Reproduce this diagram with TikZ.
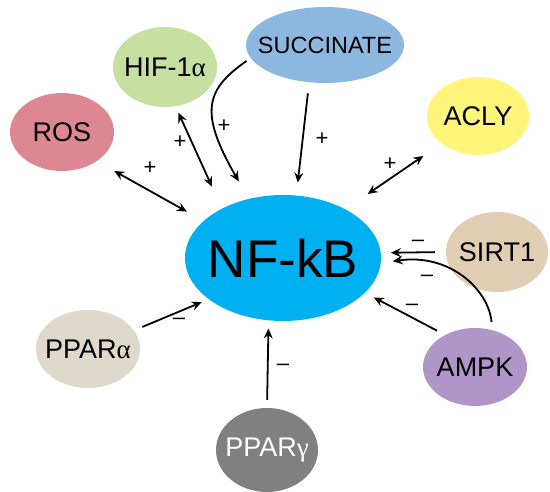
\documentclass[tikz,border=0pt]{standalone}
\usepackage{fontspec}
\setmainfont{Liberation Sans}
\newfontfamily\grk{Liberation Serif}
\usetikzlibrary{shapes.geometric,arrows.meta}
\newcommand\zw[1]{\makebox[0pt]{#1}}
\definecolor{cNF}{RGB}{0,176,240}
\definecolor{cROS}{RGB}{220,135,145}
\definecolor{cHIF}{RGB}{197,224,160}
\definecolor{cSUC}{RGB}{140,183,222}
\definecolor{cACL}{RGB}{255,245,122}
\definecolor{cSIR}{RGB}{224,205,180}
\definecolor{cAMP}{RGB}{176,150,200}
\definecolor{cPPA}{RGB}{222,217,203}
\definecolor{cPPG}{RGB}{128,128,128}
\tikzset{
  blob/.style={ellipse, inner sep=0pt, draw=none, font=\fontsize{27}{32}\selectfont},
  link/.style={line width=1.8pt, -{Stealth[length=10pt,width=9pt,inset=3.5pt]}},
  twoway/.style={line width=1.8pt, {Stealth[length=10pt,width=9pt,inset=3.5pt]}-{Stealth[length=10pt,width=9pt,inset=3.5pt]}},
  sign/.style={font=\fontsize{22}{26}\selectfont, inner sep=0pt}
}
\begin{document}
\begin{tikzpicture}[x=1pt,y=-1pt]
\useasboundingbox (0,0) rectangle (550,492);
\fill[white] (0,0) rectangle (550,492);
% nodes
\node[blob, fill=cNF, minimum width=196pt, minimum height=126pt, font=\fontsize{53}{62}\selectfont] (nf) at (283,258) {\zw{NF-kB}};
\node[blob, fill=cROS, minimum width=104pt, minimum height=78pt] (ros) at (62,132) {\zw{ROS}};
\node[blob, fill=cHIF, minimum width=104pt, minimum height=80pt] (hif) at (165,67) {\zw{HIF-1{\grk α}}};
\node[blob, fill=cSUC, minimum width=158pt, minimum height=76pt, font=\fontsize{23.5}{28}\selectfont] (succ) at (325,45) {\zw{SUCCINATE}};
\node[blob, fill=cACL, minimum width=102pt, minimum height=78pt] (acly) at (478,116) {\zw{ACLY}};
\node[blob, fill=cSIR, minimum width=102pt, minimum height=80pt] (sirt) at (497,252) {\zw{SIRT1}};
\node[blob, fill=cAMP, minimum width=104pt, minimum height=78pt] (ampk) at (475,367) {\zw{AMPK}};
\node[blob, fill=cPPG, minimum width=102pt, minimum height=84pt, text=white] (pparg) at (267,450) {\zw{PPAR{\grk γ}}};
\node[blob, fill=cPPA, minimum width=104pt, minimum height=78pt] (ppara) at (88,349) {\zw{PPAR{\grk α}}};
% connectors
\draw[twoway, shorten <=20pt, shorten >=19pt] (ros.-40) -- (nf.155);
\draw[twoway, shorten <=7pt, shorten >=24pt] (hif.-75) -- (nf.141);
\draw[link, shorten <=5pt, shorten >=20pt] (succ.190) .. controls +(145:55) and +(240:100) .. (nf.120);
\draw[link, shorten <=11pt, shorten >=13pt] (succ.-113) -- (nf.78);
\draw[twoway, shorten <=22pt, shorten >=27pt] (acly.-143) -- (nf.38);
\draw[link, shorten <=11pt, shorten >=10pt] (sirt.180) -- (nf.3);
\draw[link, shorten <=8pt, shorten >=12pt] (ampk.65) .. controls +(-95:40) and +(-8.5:70) .. (nf.-3);
\draw[link, shorten <=9pt, shorten >=10pt] (ampk.133) -- (nf.-23);
\draw[link, shorten <=8pt, shorten >=8pt] (pparg.90) -- (nf.-103);
\draw[link, shorten <=9pt, shorten >=7.5pt] (ppara.22) -- (nf.-151);
% signs
\node[sign] (s1) at (150,168) {+};
\node[sign] (s2) at (180,142) {+};
\node[sign] (s3) at (224,126) {+};
\node[sign] (s4) at (322,139) {+};
\node[sign] (s5) at (390,164) {+};
\node[sign] (s6) at (418,243) {–};
\node[sign] (s7) at (427,278) {–};
\node[sign] (s8) at (412,307) {–};
\node[sign] (s9) at (283,367) {–};
\node[sign] (s10) at (179,321) {–};
\end{tikzpicture}
\end{document}
